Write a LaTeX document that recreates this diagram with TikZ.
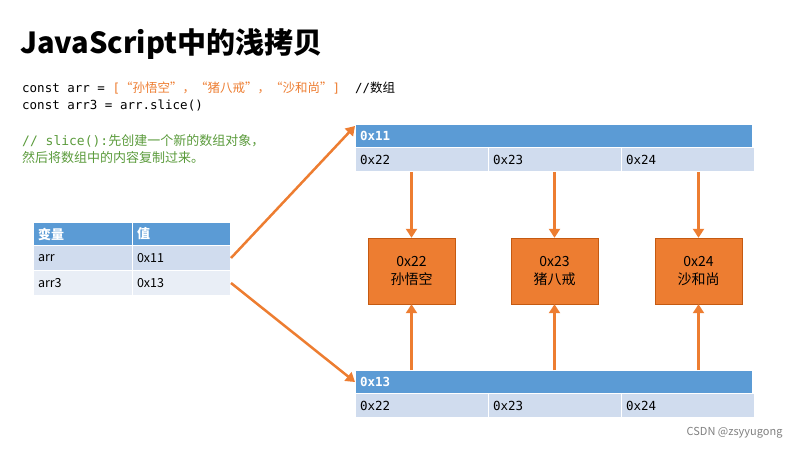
\documentclass[tikz,border=0pt]{standalone}
\usepackage{fontspec}
\setmainfont{Noto Sans CJK SC}
\newfontfamily\cjk{Noto Sans CJK SC}
\setmonofont{DejaVu Sans Mono}
\usetikzlibrary{arrows.meta}
\definecolor{hblue}{HTML}{5B9BD5}
\definecolor{rowa}{HTML}{D0DCEE}
\definecolor{rowb}{HTML}{E9EEF6}
\definecolor{org}{HTML}{ED7D31}
\definecolor{orgd}{HTML}{C55A11}
\definecolor{cgreen}{HTML}{5B9B3C}
\tikzset{
 cell/.style={draw=white,line width=1pt,minimum height=#1,inner sep=0pt},
 hdr/.style={fill=hblue,text=white,font=\fontsize{13}{15}\selectfont\bfseries},
 mem/.style={fill=rowa,font=\ttfamily\fontsize{12.5}{15}\selectfont},
 obj/.style={draw=orgd,fill=org,minimum width=87pt,minimum height=66pt,align=center,font=\fontsize{14}{18}\selectfont},
 arr/.style={draw=org,line width=2.5pt,-{Triangle[length=9pt,width=11pt]}},
 codef/.style={font=\ttfamily\fontsize{12.5}{15}\selectfont,inner sep=0pt,anchor=west},
}
\begin{document}
\begin{tikzpicture}[x=1pt,y=-1pt]
\useasboundingbox (0,0) rectangle (800,450);
\node[anchor=west,inner sep=0pt,font=\fontsize{29}{34}\selectfont\bfseries] (title) at (20,44) {JavaScript中的浅拷贝};
\node[codef] (c1) at (22,88) {const arr = \textcolor{org}{[{\cjk“孙悟空”，“猪八戒”，“沙和尚”}]}\ \ //{\cjk 数组}};
\node[codef] (c2) at (22,106) {const arr3 = arr.slice()};
\node[anchor=north west,align=left,text=cgreen,font=\fontsize{13}{17}\selectfont,inner sep=0pt] (cm) at (22,134) {\texttt{// slice():}先创建一个新的数组对象，\\然后将数组中的内容复制过来。};
% table
\node[cell=23pt,hdr,minimum width=99pt,anchor=north west,text width=90pt] (h1) at (33,222) {变量};
\node[cell=23pt,hdr,minimum width=98pt,anchor=north west,text width=89pt] (h2) at (132,222) {值};
\node[cell=25pt,fill=rowa,minimum width=99pt,anchor=north west,text width=90pt,font=\fontsize{12.5}{15}\selectfont] (a1) at (33,245) {arr};
\node[cell=25pt,fill=rowa,minimum width=98pt,anchor=north west,text width=89pt,font=\fontsize{12.5}{15}\selectfont] (a2) at (132,245) {0x11};
\node[cell=25pt,fill=rowb,minimum width=99pt,anchor=north west,text width=90pt,font=\fontsize{12.5}{15}\selectfont] (b1) at (33,270) {arr3};
\node[cell=25pt,fill=rowb,minimum width=98pt,anchor=north west,text width=89pt,font=\fontsize{12.5}{15}\selectfont] (b2) at (132,270) {0x13};
% top array
\node[cell=23pt,hdr,minimum width=397pt,text width=388pt,anchor=north west,font=\ttfamily\fontsize{12.5}{15}\selectfont\bfseries] (t0) at (355,124) {0x11};
\foreach \i/\x/\v in {1/355/0x22,2/488/0x23,3/621/0x24}{
 \node[cell=24pt,mem,minimum width=133pt,text width=124pt,anchor=north west] (t\i) at (\x,147) {\v};
 \node[cell=24pt,mem,minimum width=133pt,text width=124pt,anchor=north west] (u\i) at (\x,393) {\v};
}
\node[cell=23pt,hdr,minimum width=397pt,text width=388pt,anchor=north west,font=\ttfamily\fontsize{12.5}{15}\selectfont\bfseries] (u0) at (355,370) {0x13};
\node[obj] (o1) at (411.5,271) {0x22\\孙悟空};
\node[obj] (o2) at (554.5,271) {0x23\\猪八戒};
\node[obj] (o3) at (698.5,271) {0x24\\沙和尚};
\foreach \i in {1,2,3}{
 \draw[arr] (t\i.south -| o\i) -- (o\i.north);
 \draw[arr] (u0.north -| o\i) -- (o\i.south);
}
\draw[arr] (a2.east) -- ([yshift=10pt]t0.west);
\draw[arr] (b2.east) -- (u0.west);
\node[anchor=east,text=gray,font=\fontsize{11}{13}\selectfont] (wm) at (786,433) {CSDN @zsyyugong};
\end{tikzpicture}
\end{document}
